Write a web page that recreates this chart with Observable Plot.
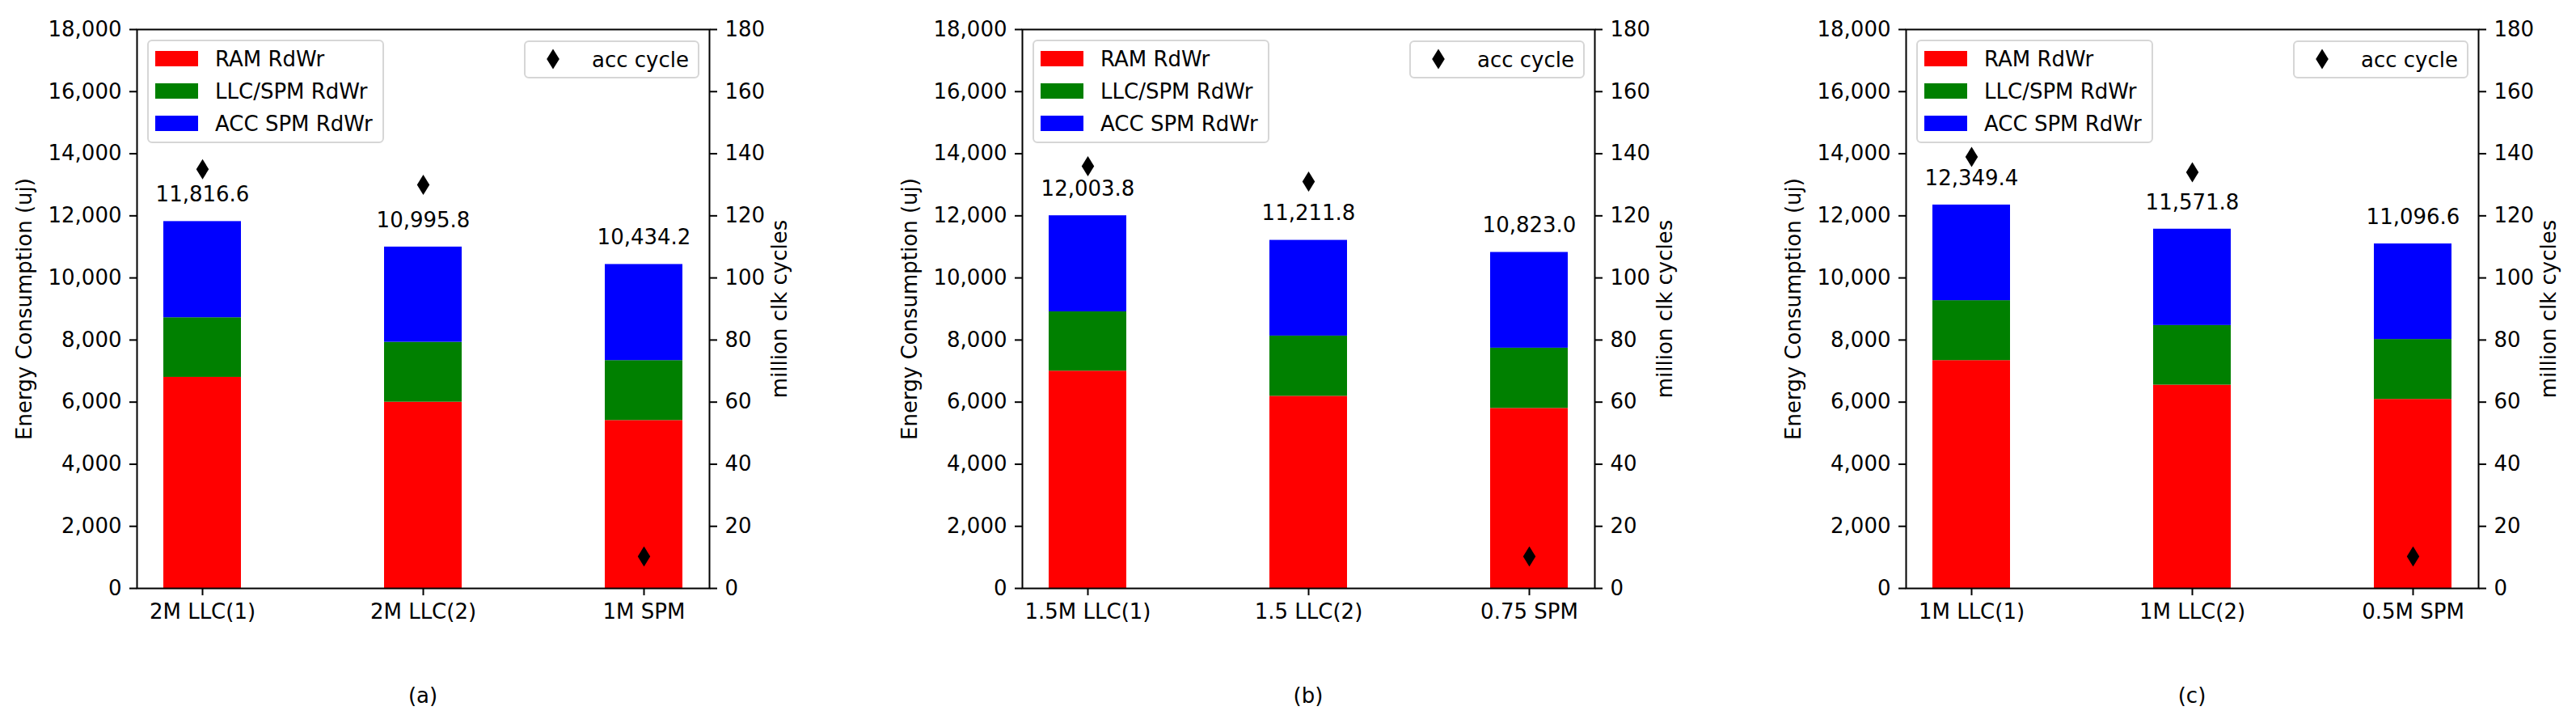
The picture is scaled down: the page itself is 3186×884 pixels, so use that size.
<!DOCTYPE html>
<html>
<head>
<meta charset="utf-8">
<script src="https://cdn.jsdelivr.net/npm/d3@7"></script>
<script src="https://cdn.jsdelivr.net/npm/@observablehq/plot@0.6"></script>
<style>
  html, body { margin: 0; padding: 0; background: #fff; }
  #root { position: relative; width: 3186px; height: 884px; background: #fff; overflow: hidden; font-family: "DejaVu Sans", sans-serif; color: #000; }
  .panel { position: absolute; top: 0; width: 1000px; height: 884px; }
  .panel svg { position: absolute; left: 0; top: 0; }
  .legend { position: absolute; box-sizing: border-box; border: 2px solid #d6d6d6; border-radius: 6px; background: rgba(255,255,255,0.85); font-size: 26px; }
  .legend .item { position: absolute; left: 0; white-space: nowrap; }
  .legend .patch { position: absolute; width: 53px; height: 19px; }
  .legend .lbl { position: absolute; line-height: 1; transform: translateY(-50%); }
  .caption { position: absolute; font-size: 26px; transform: translate(-50%, -50%); white-space: nowrap; }
</style>
</head>
<body>
<div id="root"></div>
<script>
// ---- data ----
const seriesNames = ["RAM RdWr", "LLC/SPM RdWr", "ACC SPM RdWr"];
const seriesColors = ["#ff0000", "#008000", "#0000ff"];
const cycleLabel = "acc cycle";
const yTicks = [0, 2000, 4000, 6000, 8000, 10000, 12000, 14000, 16000, 18000];

const categoriesA = ["2M LLC(1)", "2M LLC(2)", "1M SPM"];
const ramA = [6800, 6000, 5410];
const llcA = [1920, 1930, 1930];
const accA = [3096.6, 3065.8, 3094.2];
const totalA = [11816.6, 10995.8, 10434.2];
const cyclesA = [135, 130, 10.3];

const categoriesB = ["1.5M LLC(1)", "1.5 LLC(2)", "0.75 SPM"];
const ramB = [7000, 6190, 5800];
const llcB = [1910, 1940, 1940];
const accB = [3093.8, 3081.8, 3083.0];
const totalB = [12003.8, 11211.8, 10823.0];
const cyclesB = [136, 131, 10.3];

const categoriesC = ["1M LLC(1)", "1M LLC(2)", "0.5M SPM"];
const ramC = [7340, 6550, 6090];
const llcC = [1930, 1920, 1930];
const accC = [3079.4, 3101.8, 3076.6];
const totalC = [12349.4, 11571.8, 11096.6];
const cyclesC = [139, 134, 10.3];

const captions = ["(a)", "(b)", "(c)"];

// ---- layout ----
const FONT = "DejaVu Sans";
const FS = 26;
const marginLeft = 169, innerW = 708, svgW = 1000;
const marginTop = 36, innerH = 691, svgH = 800;
const panelLefts = [0, 1095, 2188];

const thinDiamond = {
  draw(ctx, size) {
    const r = Math.sqrt(size / Math.PI);
    ctx.moveTo(0, -r);
    ctx.lineTo(0.62 * r, 0);
    ctx.lineTo(0, r);
    ctx.lineTo(-0.62 * r, 0);
    ctx.closePath();
  }
};

function makePanel(idx, cats, ram, llc, acc, total, cycles) {
  const rows = [];
  cats.forEach((c, i) => {
    rows.push({cat: c, series: seriesNames[0], value: ram[i]});
    rows.push({cat: c, series: seriesNames[1], value: llc[i]});
    rows.push({cat: c, series: seriesNames[2], value: acc[i]});
  });
  const pts = cats.map((c, i) => ({cat: c, total: total[i], cycles: cycles[i]}));
  const fmt = d3.format(",.1f");

  const svg = Plot.plot({
    width: svgW,
    height: svgH,
    marginLeft,
    marginRight: svgW - marginLeft - innerW,
    marginTop,
    marginBottom: svgH - marginTop - innerH,
    style: {fontFamily: FONT, fontSize: FS + "px", background: "transparent", overflow: "visible", color: "#000"},
    x: {type: "band", domain: cats, paddingInner: 0.65, paddingOuter: 0.1175, align: 0.5},
    y: {domain: [0, 18000], nice: false},
    color: {domain: seriesNames, range: seriesColors},
    marks: [
      Plot.barY(rows, {x: "cat", y: "value", fill: "series", inset: 0}),
      Plot.text(pts, {x: "cat", y: "total", text: d => fmt(d.total), dy: -33, lineAnchor: "middle", textAnchor: "middle", fill: "#000"}),
      Plot.dot(pts, {x: "cat", y: d => d.cycles * 100, symbol: thinDiamond, r: 12.5, fill: "#000", stroke: "none"}),
      Plot.frame({stroke: "#000", strokeWidth: 2}),
      Plot.axisY({anchor: "left", ticks: yTicks, tickFormat: d3.format(","), tickSize: 9, tickPadding: 10, strokeWidth: 2, label: null}),
      Plot.axisY({anchor: "right", ticks: yTicks, tickFormat: d => String(d / 100), tickSize: 9, tickPadding: 10, strokeWidth: 2, label: null}),
      Plot.axisX({anchor: "bottom", tickSize: 9, tickPadding: 10, strokeWidth: 2, label: null}),
      Plot.text(["Energy Consumption (uj)"], {frameAnchor: "left", dx: -139, rotate: -90, textAnchor: "middle", lineAnchor: "middle", fill: "#000"}),
      Plot.text(["million clk cycles"], {frameAnchor: "right", dx: 87, rotate: -90, textAnchor: "middle", lineAnchor: "middle", fill: "#000"})
    ]
  });

  const panel = document.createElement("div");
  panel.className = "panel";
  panel.style.left = panelLefts[idx] + "px";
  panel.appendChild(svg);

  // left legend (bars)
  const leg = document.createElement("div");
  leg.className = "legend";
  leg.style.left = (marginLeft + 13) + "px";
  leg.style.top = "49px";
  leg.style.width = "293px";
  leg.style.height = "128px";
  seriesNames.forEach((s, i) => {
    const cy = 22 + i * 40;
    const p = document.createElement("div");
    p.className = "patch";
    p.style.left = "8px";
    p.style.top = (cy - 10) + "px";
    p.style.background = seriesColors[i];
    leg.appendChild(p);
    const t = document.createElement("div");
    t.className = "lbl";
    t.style.left = "82px";
    t.style.top = cy + "px";
    t.textContent = s;
    leg.appendChild(t);
  });
  panel.appendChild(leg);

  // right legend (cycles)
  const right = marginLeft + innerW;
  const leg2 = document.createElement("div");
  leg2.className = "legend";
  leg2.style.left = (right - 229) + "px";
  leg2.style.top = "50px";
  leg2.style.width = "217px";
  leg2.style.height = "47px";
  const ds = document.createElementNS("http://www.w3.org/2000/svg", "svg");
  ds.setAttribute("width", "18");
  ds.setAttribute("height", "26");
  ds.style.position = "absolute";
  ds.style.left = (36 - 2 - 9) + "px";
  ds.style.top = (23 - 2 - 13) + "px";
  ds.innerHTML = '<path d="M9,0.5 L16.8,13 L9,25.5 L1.2,13 Z" fill="#000"/>';
  leg2.appendChild(ds);
  const t2 = document.createElement("div");
  t2.className = "lbl";
  t2.style.left = "82px";
  t2.style.top = "22px";
  t2.textContent = cycleLabel;
  leg2.appendChild(t2);
  panel.appendChild(leg2);

  // caption
  const cap = document.createElement("div");
  cap.className = "caption";
  cap.style.left = (marginLeft + innerW / 2) + "px";
  cap.style.top = "860px";
  cap.textContent = captions[idx];
  panel.appendChild(cap);

  document.getElementById("root").appendChild(panel);
}

makePanel(0, categoriesA, ramA, llcA, accA, totalA, cyclesA);
makePanel(1, categoriesB, ramB, llcB, accB, totalB, cyclesB);
makePanel(2, categoriesC, ramC, llcC, accC, totalC, cyclesC);
</script>
</body>
</html>
